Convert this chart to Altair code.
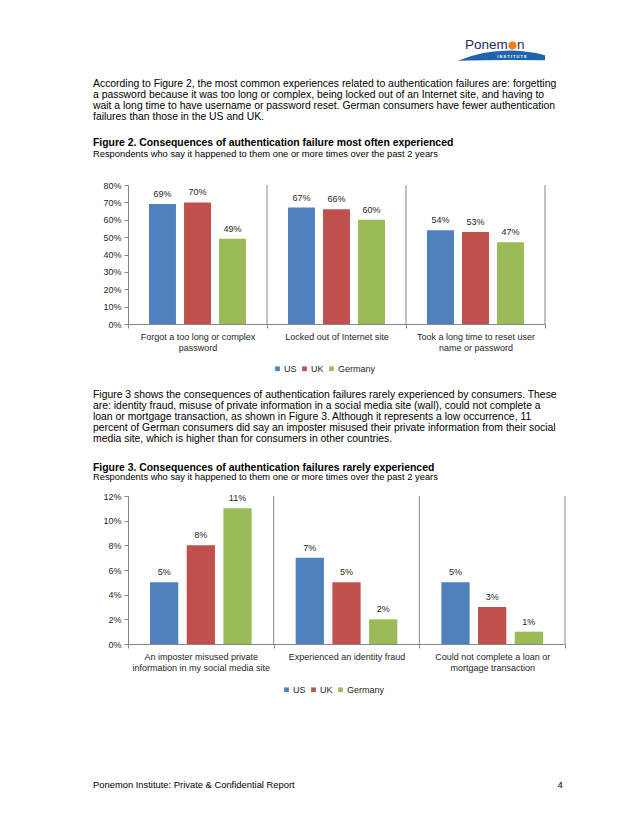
import altair as alt
import pandas as pd

FONT = "Liberation Sans"

# ---------------- data ----------------
countries = ["US", "UK", "Germany"]
country_colors = ["#4F81BD", "#C0504D", "#9BBB59"]

fig2_categories = [
    "Forgot a too long or complex|password",
    "Locked out of Internet site",
    "Took a long time to reset user|name or password",
]
fig2_us = [0.69, 0.67, 0.54]
fig2_uk = [0.70, 0.66, 0.53]
fig2_germany = [0.49, 0.60, 0.47]
fig2_ticks = [0.0, 0.1, 0.2, 0.3, 0.4, 0.5, 0.6, 0.7, 0.8]

fig3_categories = [
    "An imposter misused private|information in my social media site",
    "Experienced an identity fraud",
    "Could not complete a loan or|mortgage transaction",
]
fig3_us = [0.05, 0.07, 0.05]
fig3_uk = [0.08, 0.05, 0.03]
fig3_germany = [0.11, 0.02, 0.01]
fig3_ticks = [0.0, 0.02, 0.04, 0.06, 0.08, 0.10, 0.12]

para1 = [
    "According to Figure 2, the most common experiences related to authentication failures are: forgetting",
    "a password because it was too long or complex, being locked out of an Internet site, and having to",
    "wait a long time to have username or password reset. German consumers have fewer authentication",
    "failures than those in the US and UK.",
]
fig2_title = "Figure 2. Consequences of authentication failure most often experienced"
fig_subtitle = "Respondents who say it happened to them one or more times over the past 2 years"
para2 = [
    "Figure 3 shows the consequences of authentication failures rarely experienced by consumers. These",
    "are: identity fraud, misuse of private information in a social media site (wall), could not complete a",
    "loan or mortgage transaction, as shown in Figure 3. Although it represents a low occurrence, 11",
    "percent of German consumers did say an imposter misused their private information from their social",
    "media site, which is higher than for consumers in other countries.",
]
fig3_title = "Figure 3. Consequences of authentication failures rarely experienced"
footer_left = "Ponemon Institute: Private & Confidential Report"
footer_right = "4"


def long_table(cats, us, uk, de):
    rows = []
    for i, c in enumerate(cats):
        for country, vals in zip(countries, [us, uk, de]):
            rows.append({"category": c, "country": country, "value": vals[i]})
    return pd.DataFrame(rows)


AX = "#868686"
LBL = "#262626"


def x_def(cats, x_range, x_axis_offset, band_pos=None):
    kw = {}
    if band_pos is not None:
        kw["bandPosition"] = band_pos
    return alt.X(
        "category:N", sort=cats,
        scale=alt.Scale(domain=cats, range=x_range, paddingInner=0, paddingOuter=0),
        axis=alt.Axis(orient="bottom", offset=x_axis_offset, title=None,
                      labelExpr="split(datum.label, '|')", labelAngle=0,
                      labelFont=FONT, labelFontSize=9, labelColor=LBL,
                      labelLineHeight=11.5, labelPadding=4, labelLimit=400,
                      tickBand="extent", tickSize=4, tickColor=AX,
                      domainColor=AX, grid=False),
        **kw,
    )


def bar_panel(df, cats, ticks, x_range, y_range, x_axis_offset, legend_x, legend_y):
    ymax = ticks[-1]
    x = x_def(cats, x_range, x_axis_offset)
    y = alt.Y(
        "value:Q",
        scale=alt.Scale(domain=[0, ymax], range=y_range, nice=False, zero=True),
        axis=alt.Axis(orient="left", offset=-120, title=None, values=ticks,
                      format=".0%", labelFont=FONT, labelFontSize=9,
                      labelColor=LBL, tickSize=4, tickColor=AX,
                      domainColor=AX, labelPadding=3, grid=False),
    )
    xo = alt.XOffset("country:N", sort=countries,
                     scale=alt.Scale(domain=countries, paddingInner=0.23, paddingOuter=0.6))
    color = alt.Color(
        "country:N", sort=countries,
        scale=alt.Scale(domain=countries, range=country_colors),
        legend=alt.Legend(orient="none", legendX=legend_x, legendY=legend_y,
                          direction="horizontal", title=None, symbolType="square",
                          symbolSize=22, symbolStrokeWidth=0, labelFont=FONT,
                          labelFontSize=9, labelColor=LBL, labelOffset=2,
                          columnPadding=3, padding=0),
    )
    base = alt.Chart(df)
    bars = base.mark_bar().encode(x=x, xOffset=xo, y=y, color=color)
    labels = base.mark_text(dy=-10, baseline="middle", font=FONT, fontSize=9,
                            color=LBL).encode(
        x=x, xOffset=xo, y=y, text=alt.Text("value:Q", format=".0%"))
    seps_df = pd.DataFrame({"category": cats, "value": [0.0] * len(cats),
                            "top": [ymax] * len(cats)})
    seps = alt.Chart(seps_df).mark_rule(color=AX, strokeWidth=1).encode(
        x=x_def(cats, x_range, x_axis_offset, band_pos=1),
        y=y, y2="top:Q")
    return alt.layer(seps, bars, labels)


one = alt.Data(values=[{}])


def text_mark(content, x, y, size, weight="normal", color="black", align="left",
              lh=None, baseline="alphabetic"):
    kw = dict(align=align, baseline=baseline, font=FONT, fontSize=size,
              fontWeight=weight, color=color)
    if lh is not None:
        kw["lineHeight"] = lh
    return alt.Chart(one).mark_text(**kw).encode(
        x=alt.value(x), y=alt.value(y), text=alt.value(content))


chart1 = bar_panel(long_table(fig2_categories, fig2_us, fig2_uk, fig2_germany),
                   fig2_categories, fig2_ticks, [120, 537], [316, 177], -494, 265, 356)
chart2 = bar_panel(long_table(fig3_categories, fig3_us, fig3_uk, fig3_germany),
                   fig3_categories, fig3_ticks, [120, 557], [636, 488], -174, 274, 677)

swoosh = ("M -1 0.11 Q -0.05 -0.28 1 -0.02 L 1 0.1 Q 0 0.08 -1 0.11 Z")
logo_swoosh = alt.Chart(one).mark_point(shape=swoosh, filled=True, color="#1F64AF",
                                        size=87 * 87, opacity=1, strokeWidth=0).encode(
    x=alt.value(493.5), y=alt.value(48))
logo_text = text_mark("Ponem", 457, 41, 13.5, color="#1C2B5A")
logo_dot = alt.Chart(one).mark_point(shape="circle", filled=True, color="#F07F1A",
                                     size=64, opacity=1, strokeWidth=0).encode(
    x=alt.value(504.5), y=alt.value(37.5))
logo_n = text_mark("n", 509, 41, 13.5, color="#1C2B5A")
logo_inst = text_mark("I N S T I T U T E", 504, 50, 4, weight="bold", color="white",
                      align="center")

texts = [
    text_mark(para1, 85, 78.6, 10.4, lh=11.2),
    text_mark(fig2_title, 85, 138.3, 10.4, weight="bold"),
    text_mark(fig_subtitle, 85, 148.8, 9.35),
    text_mark(para2, 85, 389.6, 10.4, lh=11.1),
    text_mark(fig3_title, 85, 462.8, 10.4, weight="bold"),
    text_mark(fig_subtitle, 85, 472.3, 9.35),
    text_mark(footer_left, 85, 780, 9.4),
    text_mark(footer_right, 552, 780, 9.4, align="center"),
]

chart = alt.layer(
    chart1, chart2, logo_swoosh, logo_text, logo_dot, logo_n, logo_inst, *texts
).resolve_scale(
    x="independent", y="independent", color="independent", xOffset="independent"
).properties(
    width=622, height=810,
    autosize=alt.AutoSizeParams(type="none"),
    padding=0,
    background="white",
).configure_view(stroke=None)

chart.save("out.html", embed_options={"renderer": "svg", "actions": False})
